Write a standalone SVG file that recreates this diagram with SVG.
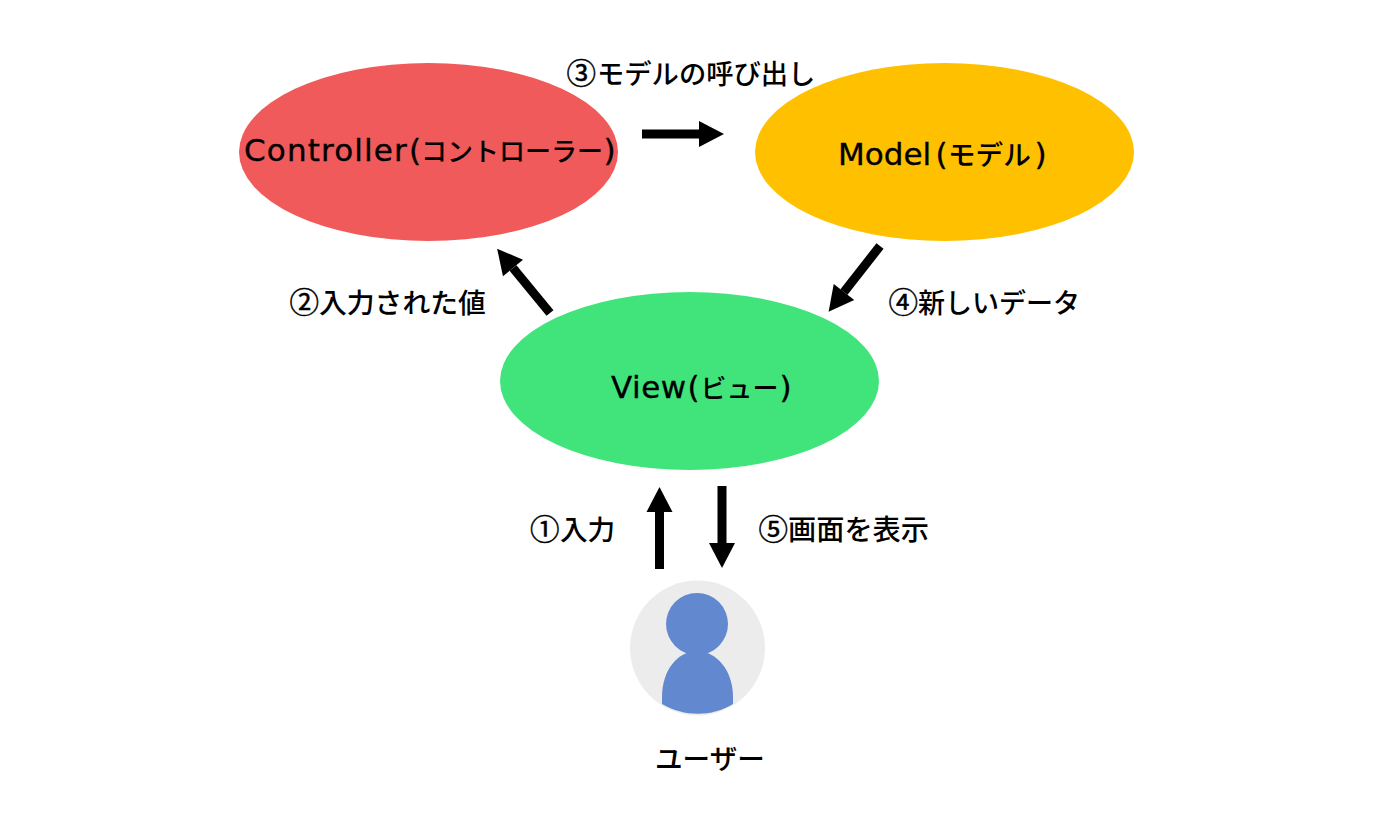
<svg xmlns="http://www.w3.org/2000/svg" width="1398" height="814" viewBox="0 0 1398 814">
<style>
text{font-family:"Noto Sans CJK JP","Noto Sans",sans-serif;font-size:27.6px;font-weight:500;fill:#000}
.l{font-family:"DejaVu Sans","Noto Sans CJK JP",sans-serif;font-size:31px;font-weight:400;stroke:#000;stroke-width:.35}
.n{font-size:29.500px;font-weight:400;stroke:#000;stroke-width:.5}
.a{stroke:#000;stroke-width:9;fill:none;marker-end:url(#h)}
</style>
<defs><marker id="h" markerUnits="userSpaceOnUse" markerWidth="26" markerHeight="26" refX="0" refY="13" orient="auto" overflow="visible"><path d="M0 0L25 13L0 26z" fill="#000"/></marker></defs>
<rect width="1398" height="814" fill="#fff"/>
<g id="controller"><ellipse cx="428.500" cy="152" rx="189.500" ry="89" fill="#f05a5a"/><text x="244" y="161"><tspan class="l" letter-spacing="1.150">Controller</tspan><tspan class="l" x="409">(</tspan><tspan x="421" font-size="26">コントローラー</tspan><tspan class="l" x="603.500">)</tspan></text></g>
<g id="model"><ellipse cx="944.500" cy="152" rx="189.500" ry="89" fill="#ffc000"/><text x="838" y="165"><tspan class="l">Model</tspan><tspan class="l" x="935.500">(</tspan><tspan x="948">モデル</tspan><tspan class="l" x="1034.500">)</tspan></text></g>
<g id="view"><ellipse cx="689.500" cy="381" rx="189.500" ry="89" fill="#41e47b"/><text x="611" y="398"><tspan class="l" letter-spacing=".5">View</tspan><tspan class="l" x="687.500">(</tspan><tspan x="700.500" font-size="26">ビュー</tspan><tspan class="l" x="779.500">)</tspan></text></g>
<g id="user"><circle cx="697.500" cy="648" r="67.500" fill="#ececec"/><circle cx="697" cy="624" r="31" fill="#6288cf"/><path d="M662 704V697C662 670 678 651 697 651C716 651 733 670 733 697V704C712 717 684 717 662 704z" fill="#6288cf"/><text x="655" y="769">ユーザー</text></g>
<g id="connectors">
<path class="a" d="M642 134H699"/>
<path class="a" d="M880 246L844 292"/>
<path class="a" d="M550 313L513 268"/>
<path class="a" d="M659.500 569V512"/>
<path class="a" d="M722 486V543"/>
</g>
<g id="labels">
<text x="566.500" y="84"><tspan class="n">③</tspan><tspan x="597" font-size="27.300">モデルの呼び出し</tspan></text>
<text x="289.500" y="313"><tspan class="n">②</tspan><tspan x="319" font-size="27.800">入力された値</tspan></text>
<text x="888.500" y="313"><tspan class="n">④</tspan><tspan x="918" font-size="27">新しいデータ</tspan></text>
<text x="530" y="540"><tspan class="n">①</tspan><tspan x="560">入力</tspan></text>
<text x="758.500" y="540"><tspan class="n">⑤</tspan><tspan x="788" font-size="28.200">画面を表示</tspan></text>
</g>
</svg>
